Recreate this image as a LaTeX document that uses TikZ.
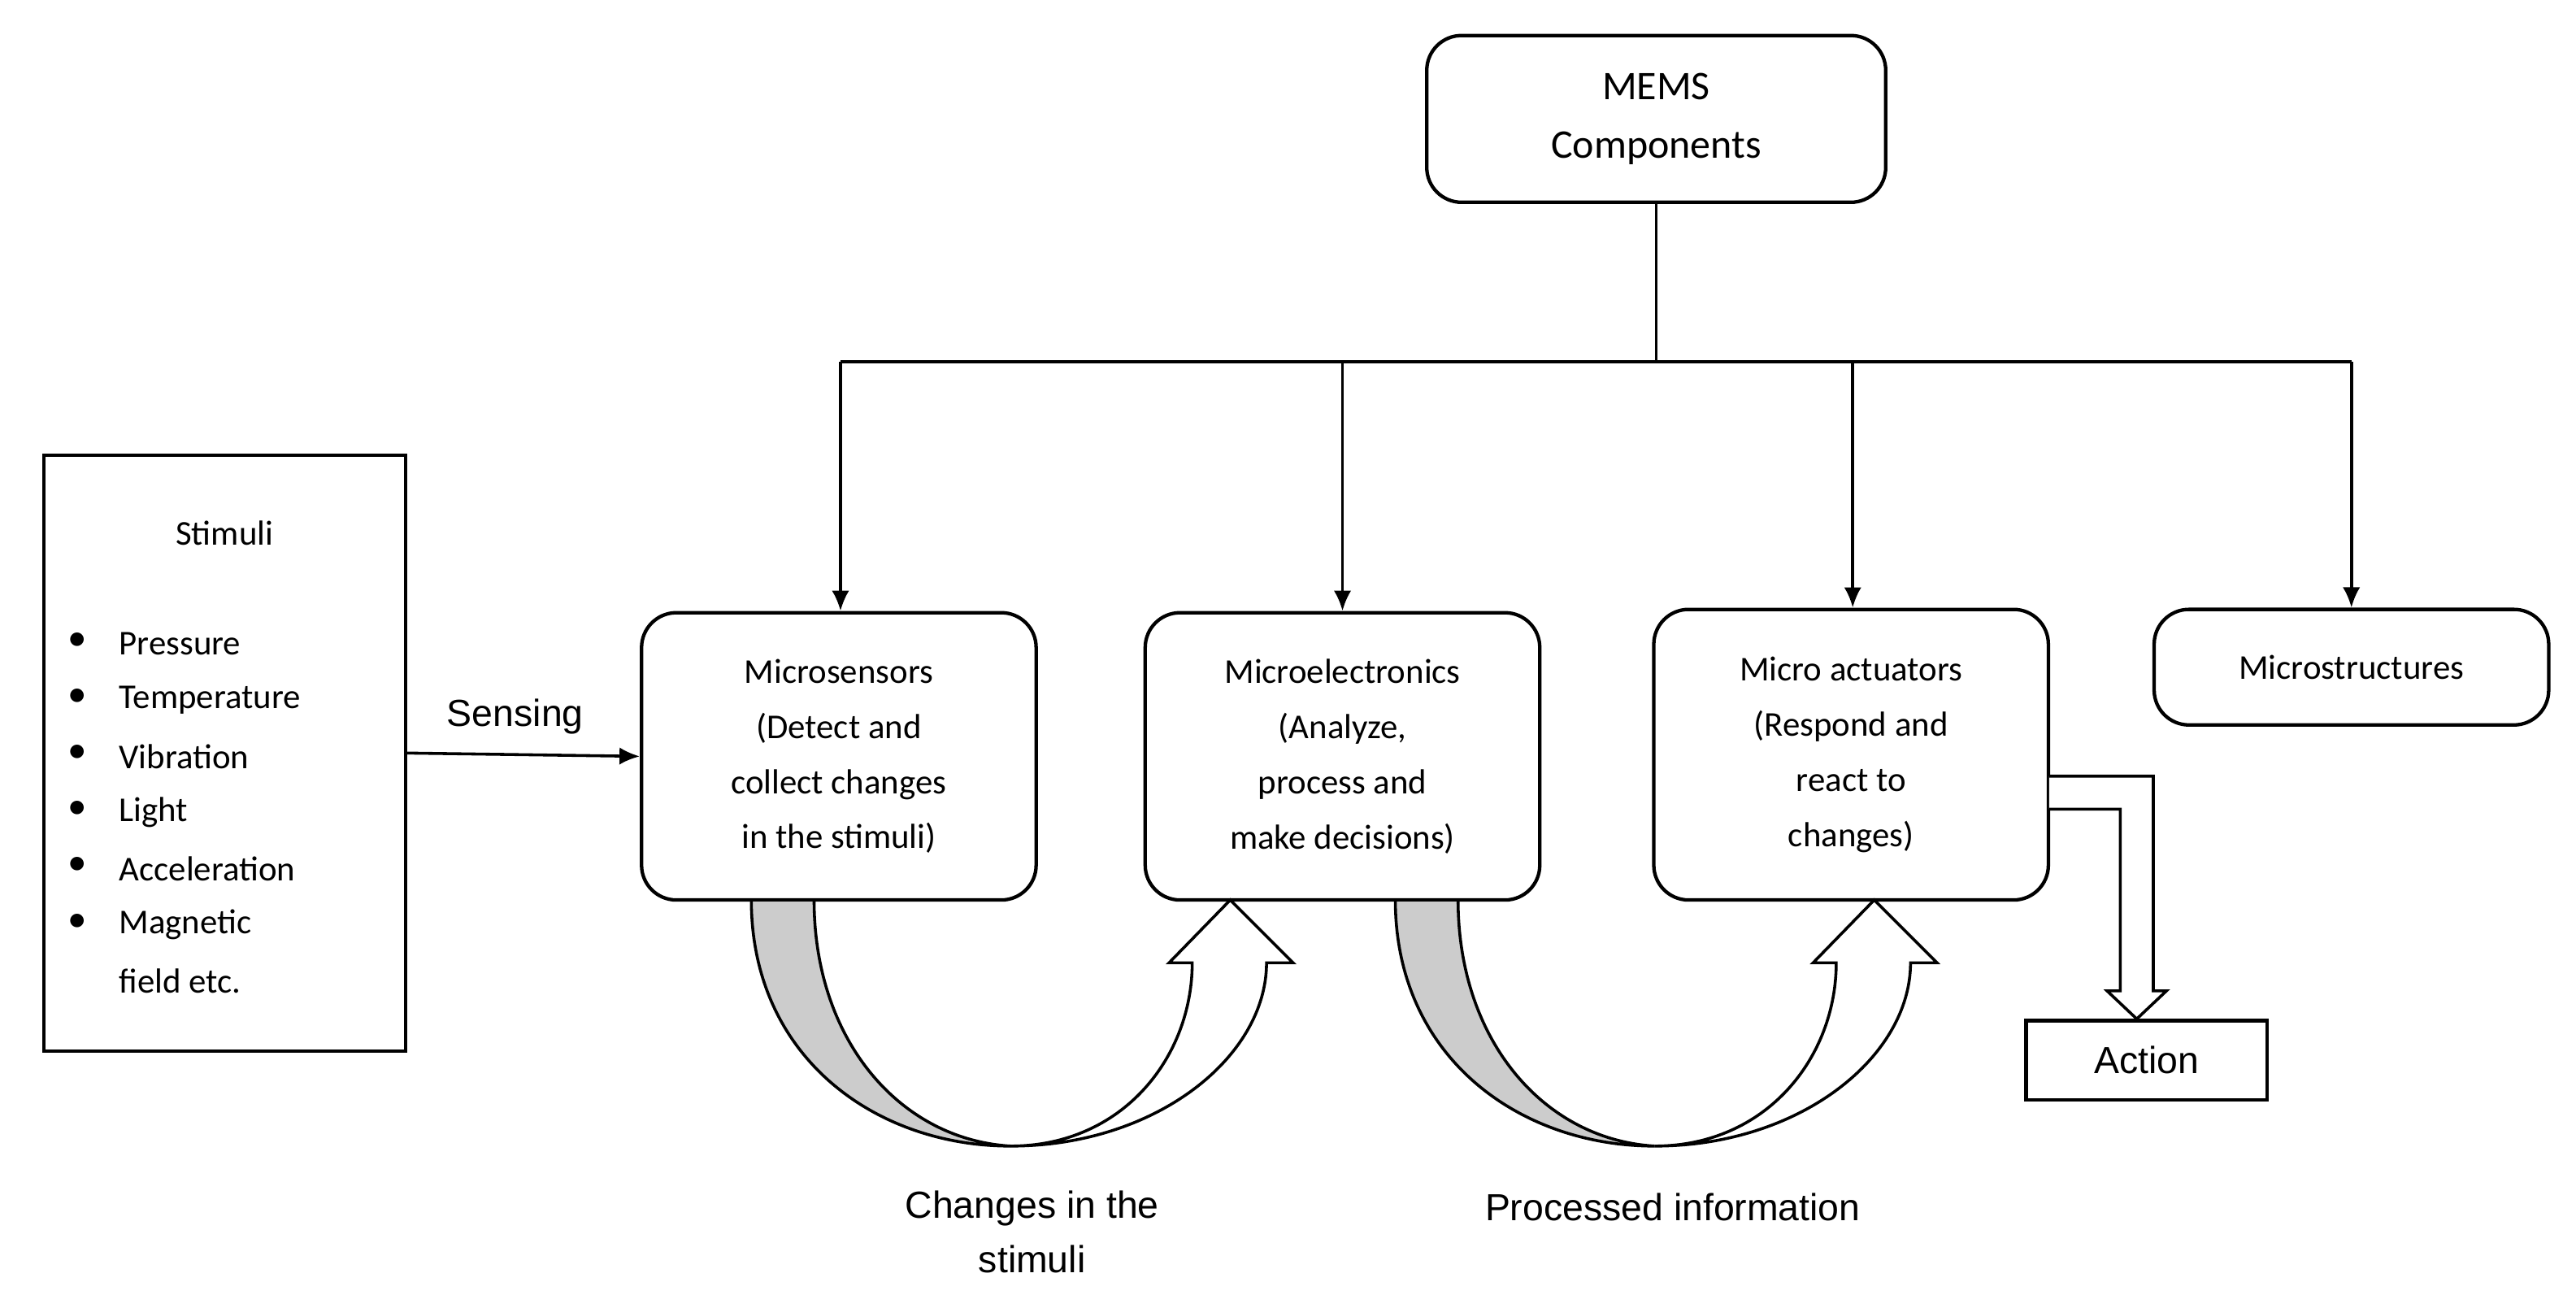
\documentclass[tikz,border=0pt]{standalone}
\usepackage{fontspec}
\setmainfont{Carlito}
\newfontfamily\arialfont{Liberation Sans}
\usetikzlibrary{positioning,arrows.meta}

\tikzset{
  unit/.style={draw, rounded corners=12pt, line width=1.2pt, align=center,
    minimum width=4.78cm, minimum height=3.48cm, font=\fontsize{12}{19}\selectfont},
  plain/.style={draw, line width=1.2pt, align=center},
  feed/.style={-{Latex[length=7pt,width=6pt]}, line width=1pt},
  crescent/.style={draw, line width=1pt, fill=gray!40},
  hollow/.style={draw, line width=1pt, fill=white}
}

\begin{document}
\begin{tikzpicture}[x=0.02cm, y=-0.02cm]
    \useasboundingbox (0,0) rectangle (1560,792);

    % Top node
    \node[unit, minimum width=5.56cm, minimum height=2.02cm, font=\fontsize{14}{20}\selectfont]
        (mems) at (1003,72) {MEMS\\Components};

    % Units
    \node[unit] (sensors) at (508,458) {Microsensors\\(Detect and\\collect changes\\in the stimuli)};
    \node[unit] (electronics) at (813,458) {Microelectronics\\(Analyze,\\process and\\make decisions)};
    \node[unit, minimum height=3.52cm] (actuators) at (1121,457) {Micro actuators\\(Respond and\\react to\\changes)};
    \node[unit, minimum height=1.4cm] (structures) at (1424,404) {Microstructures};

    % Stimuli
    \node[plain, minimum width=4.38cm, minimum height=7.22cm] (stimuli) at (136,456) {};
    \node[font=\fontsize{12}{19}\selectfont] (stitle) at (136,323) {Stimuli};
    \foreach \txt [count=\i] in {Pressure, Temperature, Vibration, Light, Acceleration, Magnetic, field etc.} {
        \node[anchor=west, font=\fontsize{12}{19}\selectfont] (item\i) at (66,356+34*\i) {\txt};
    }
    \foreach \i in {1,...,6} {
        \node[font=\fontsize{12}{19}\selectfont] (dot\i) at (47,354+34*\i) {$\bullet$};
    }

    \node[plain, minimum width=2.92cm, minimum height=0.96cm, font=\arialfont\fontsize{13}{16}\selectfont]
        (action) at (1300,642) {Action};

    % Bus
    \coordinate (bus) at (1003,219);
    \coordinate (b1) at (509,219);
    \coordinate (b2) at (813,219);
    \coordinate (b3) at (1122,219);
    \coordinate (b4) at (1424,219);
    \draw[line width=1pt] (mems.south) -- (bus);
    \draw[line width=1pt] (b1) -- (b4);
    \draw[feed] (b1) -- (sensors.north -| b1);
    \draw[feed] (b2) -- (electronics.north -| b2);
    \draw[feed] (b3) -- (actuators.north -| b3);
    \draw[feed] (b4) -- (structures.north -| b4);

    % Sensing
    \draw[feed] (stimuli.east) -- (sensors.west);
    \node[font=\arialfont\fontsize{13}{16}\selectfont] (sensing) at (312,434) {Sensing};

    % Action arrow
    \draw[hollow] (1241,470) -- (1304,470) -- (1304,600) -- (1312,600) -- (1294,617)
        -- (1276,600) -- (1284,600) -- (1284,490) -- (1241,490);

    % Curved arrows
    \foreach \dx in {0,390} {
        \begin{scope}[xshift=\dx*0.02cm]
            \draw[crescent] (455,545) .. controls (455,640) and (530,694) .. (612,694)
                .. controls (545,690) and (493,630) .. (493,545) -- cycle;
            \draw[hollow] (612,694) .. controls (700,694) and (767,640) .. (767,583)
                -- (783,583) -- (745,545) -- (708,583) -- (722,583)
                .. controls (722,640) and (680,694) .. (612,694) -- cycle;
        \end{scope}
    }

    % Labels
    \node[align=center, font=\arialfont\fontsize{13}{19}\selectfont] (changes) at (625,746) {Changes in the\\stimuli};
    \node[font=\arialfont\fontsize{13}{19}\selectfont] (processed) at (1013,731) {Processed information};
\end{tikzpicture}
\end{document}
